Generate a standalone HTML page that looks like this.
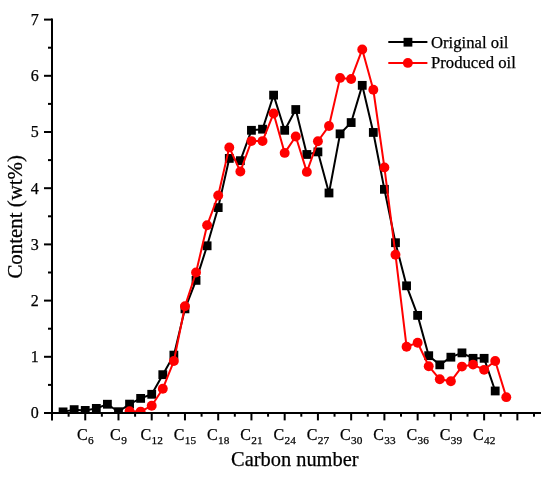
<!DOCTYPE html>
<html><head><meta charset="utf-8"><title>Carbon number distribution</title>
<style>html,body{margin:0;padding:0;background:#fff}svg{display:block}text{font-family:"Liberation Serif","Times New Roman",serif;fill:#000;stroke:#000;stroke-width:0.25}</style></head><body>
<svg width="550" height="477" viewBox="0 0 550 477">
<rect width="550" height="477" fill="#fff"/>
<defs><clipPath id="plot"><rect x="52" y="0" width="489" height="413"/></clipPath></defs>
<g clip-path="url(#plot)">
<polyline points="63.08,411.88 74.16,409.63 85.24,410.41 96.32,408.39 107.40,404.23 118.48,411.71 129.56,404.12 140.64,398.39 151.72,394.29 162.80,374.67 173.88,355.11 184.96,308.86 196.04,280.37 207.12,245.80 218.20,207.59 229.28,158.41 240.36,160.66 251.44,130.31 262.52,129.19 273.60,95.13 284.68,130.31 295.76,109.52 306.84,154.48 317.92,151.89 329.00,192.98 340.08,133.85 351.16,122.56 362.24,85.35 373.32,132.45 384.40,189.32 395.48,242.71 406.56,285.82 417.64,315.38 428.72,355.68 439.80,364.84 450.88,357.19 461.96,352.87 473.04,358.32 484.12,358.32 495.20,390.97" fill="none" stroke="#000" stroke-width="2.0" stroke-linejoin="round"/>
<g fill="#000">
<rect x="58.68" y="407.48" width="8.8" height="8.8"/>
<rect x="69.76" y="405.23" width="8.8" height="8.8"/>
<rect x="80.84" y="406.01" width="8.8" height="8.8"/>
<rect x="91.92" y="403.99" width="8.8" height="8.8"/>
<rect x="103.00" y="399.83" width="8.8" height="8.8"/>
<rect x="114.08" y="407.31" width="8.8" height="8.8"/>
<rect x="125.16" y="399.72" width="8.8" height="8.8"/>
<rect x="136.24" y="393.99" width="8.8" height="8.8"/>
<rect x="147.32" y="389.89" width="8.8" height="8.8"/>
<rect x="158.40" y="370.27" width="8.8" height="8.8"/>
<rect x="169.48" y="350.71" width="8.8" height="8.8"/>
<rect x="180.56" y="304.46" width="8.8" height="8.8"/>
<rect x="191.64" y="275.97" width="8.8" height="8.8"/>
<rect x="202.72" y="241.40" width="8.8" height="8.8"/>
<rect x="213.80" y="203.19" width="8.8" height="8.8"/>
<rect x="224.88" y="154.01" width="8.8" height="8.8"/>
<rect x="235.96" y="156.26" width="8.8" height="8.8"/>
<rect x="247.04" y="125.91" width="8.8" height="8.8"/>
<rect x="258.12" y="124.79" width="8.8" height="8.8"/>
<rect x="269.20" y="90.73" width="8.8" height="8.8"/>
<rect x="280.28" y="125.91" width="8.8" height="8.8"/>
<rect x="291.36" y="105.12" width="8.8" height="8.8"/>
<rect x="302.44" y="150.08" width="8.8" height="8.8"/>
<rect x="313.52" y="147.49" width="8.8" height="8.8"/>
<rect x="324.60" y="188.58" width="8.8" height="8.8"/>
<rect x="335.68" y="129.45" width="8.8" height="8.8"/>
<rect x="346.76" y="118.16" width="8.8" height="8.8"/>
<rect x="357.84" y="80.95" width="8.8" height="8.8"/>
<rect x="368.92" y="128.05" width="8.8" height="8.8"/>
<rect x="380.00" y="184.92" width="8.8" height="8.8"/>
<rect x="391.08" y="238.31" width="8.8" height="8.8"/>
<rect x="402.16" y="281.42" width="8.8" height="8.8"/>
<rect x="413.24" y="310.98" width="8.8" height="8.8"/>
<rect x="424.32" y="351.28" width="8.8" height="8.8"/>
<rect x="435.40" y="360.44" width="8.8" height="8.8"/>
<rect x="446.48" y="352.79" width="8.8" height="8.8"/>
<rect x="457.56" y="348.47" width="8.8" height="8.8"/>
<rect x="468.64" y="353.92" width="8.8" height="8.8"/>
<rect x="479.72" y="353.92" width="8.8" height="8.8"/>
<rect x="490.80" y="386.57" width="8.8" height="8.8"/>
</g>
<polyline points="129.56,411.31 140.64,411.60 151.72,405.69 162.80,388.72 173.88,361.01 184.96,306.22 196.04,272.50 207.12,225.29 218.20,195.51 229.28,147.40 240.36,171.51 251.44,141.10 262.52,141.10 273.60,113.45 284.68,152.91 295.76,136.50 306.84,171.90 317.92,141.27 329.00,125.93 340.08,77.88 351.16,78.95 362.24,49.39 373.32,89.74 384.40,167.41 395.48,254.68 406.56,346.68 417.64,342.75 428.72,366.19 439.80,379.28 450.88,381.30 461.96,366.58 473.04,364.61 484.12,369.84 495.20,361.01 506.28,397.15" fill="none" stroke="#ff0000" stroke-width="2.0" stroke-linejoin="round"/>
<g fill="#ff0000">
<circle cx="129.56" cy="411.31" r="4.95"/>
<circle cx="140.64" cy="411.60" r="4.95"/>
<circle cx="151.72" cy="405.69" r="4.95"/>
<circle cx="162.80" cy="388.72" r="4.95"/>
<circle cx="173.88" cy="361.01" r="4.95"/>
<circle cx="184.96" cy="306.22" r="4.95"/>
<circle cx="196.04" cy="272.50" r="4.95"/>
<circle cx="207.12" cy="225.29" r="4.95"/>
<circle cx="218.20" cy="195.51" r="4.95"/>
<circle cx="229.28" cy="147.40" r="4.95"/>
<circle cx="240.36" cy="171.51" r="4.95"/>
<circle cx="251.44" cy="141.10" r="4.95"/>
<circle cx="262.52" cy="141.10" r="4.95"/>
<circle cx="273.60" cy="113.45" r="4.95"/>
<circle cx="284.68" cy="152.91" r="4.95"/>
<circle cx="295.76" cy="136.50" r="4.95"/>
<circle cx="306.84" cy="171.90" r="4.95"/>
<circle cx="317.92" cy="141.27" r="4.95"/>
<circle cx="329.00" cy="125.93" r="4.95"/>
<circle cx="340.08" cy="77.88" r="4.95"/>
<circle cx="351.16" cy="78.95" r="4.95"/>
<circle cx="362.24" cy="49.39" r="4.95"/>
<circle cx="373.32" cy="89.74" r="4.95"/>
<circle cx="384.40" cy="167.41" r="4.95"/>
<circle cx="395.48" cy="254.68" r="4.95"/>
<circle cx="406.56" cy="346.68" r="4.95"/>
<circle cx="417.64" cy="342.75" r="4.95"/>
<circle cx="428.72" cy="366.19" r="4.95"/>
<circle cx="439.80" cy="379.28" r="4.95"/>
<circle cx="450.88" cy="381.30" r="4.95"/>
<circle cx="461.96" cy="366.58" r="4.95"/>
<circle cx="473.04" cy="364.61" r="4.95"/>
<circle cx="484.12" cy="369.84" r="4.95"/>
<circle cx="495.20" cy="361.01" r="4.95"/>
<circle cx="506.28" cy="397.15" r="4.95"/>
</g>
</g>
<g stroke="#000" stroke-width="2" fill="none" stroke-linecap="butt">
<path d="M52 18.60V414"/>
<path d="M44 413H541"/>
<path d="M48 384.90H52"/>
<path d="M44 356.80H52"/>
<path d="M48 328.70H52"/>
<path d="M44 300.60H52"/>
<path d="M48 272.50H52"/>
<path d="M44 244.40H52"/>
<path d="M48 216.30H52"/>
<path d="M44 188.20H52"/>
<path d="M48 160.10H52"/>
<path d="M44 132.00H52"/>
<path d="M48 103.90H52"/>
<path d="M44 75.80H52"/>
<path d="M48 47.70H52"/>
<path d="M44 19.60H52"/>
<path d="M52.00 413V420.4"/>
<path d="M68.62 413V416.7"/>
<path d="M85.24 413V420.4"/>
<path d="M101.86 413V416.7"/>
<path d="M118.48 413V420.4"/>
<path d="M135.10 413V416.7"/>
<path d="M151.72 413V420.4"/>
<path d="M168.34 413V416.7"/>
<path d="M184.96 413V420.4"/>
<path d="M201.58 413V416.7"/>
<path d="M218.20 413V420.4"/>
<path d="M234.82 413V416.7"/>
<path d="M251.44 413V420.4"/>
<path d="M268.06 413V416.7"/>
<path d="M284.68 413V420.4"/>
<path d="M301.30 413V416.7"/>
<path d="M317.92 413V420.4"/>
<path d="M334.54 413V416.7"/>
<path d="M351.16 413V420.4"/>
<path d="M367.78 413V416.7"/>
<path d="M384.40 413V420.4"/>
<path d="M401.02 413V416.7"/>
<path d="M417.64 413V420.4"/>
<path d="M434.26 413V416.7"/>
<path d="M450.88 413V420.4"/>
<path d="M467.50 413V416.7"/>
<path d="M484.12 413V420.4"/>
<path d="M500.74 413V416.7"/>
<path d="M517.36 413V420.4"/>
<path d="M533.98 413V416.7"/>
</g>
<g font-size="16" text-anchor="end">
<text x="38.8" y="418.30">0</text>
<text x="38.8" y="362.10">1</text>
<text x="38.8" y="305.90">2</text>
<text x="38.8" y="249.70">3</text>
<text x="38.8" y="193.50">4</text>
<text x="38.8" y="137.30">5</text>
<text x="38.8" y="81.10">6</text>
<text x="38.8" y="24.90">7</text>
</g>
<g font-size="16">
<text x="76.88" y="439.9">C<tspan font-size="11.3" dy="4.4" dx="0.4">6</tspan></text>
<text x="110.12" y="439.9">C<tspan font-size="11.3" dy="4.4" dx="0.4">9</tspan></text>
<text x="140.53" y="439.9">C<tspan font-size="11.3" dy="4.4" dx="0.4">12</tspan></text>
<text x="173.77" y="439.9">C<tspan font-size="11.3" dy="4.4" dx="0.4">15</tspan></text>
<text x="207.01" y="439.9">C<tspan font-size="11.3" dy="4.4" dx="0.4">18</tspan></text>
<text x="240.25" y="439.9">C<tspan font-size="11.3" dy="4.4" dx="0.4">21</tspan></text>
<text x="273.49" y="439.9">C<tspan font-size="11.3" dy="4.4" dx="0.4">24</tspan></text>
<text x="306.73" y="439.9">C<tspan font-size="11.3" dy="4.4" dx="0.4">27</tspan></text>
<text x="339.97" y="439.9">C<tspan font-size="11.3" dy="4.4" dx="0.4">30</tspan></text>
<text x="373.21" y="439.9">C<tspan font-size="11.3" dy="4.4" dx="0.4">33</tspan></text>
<text x="406.45" y="439.9">C<tspan font-size="11.3" dy="4.4" dx="0.4">36</tspan></text>
<text x="439.69" y="439.9">C<tspan font-size="11.3" dy="4.4" dx="0.4">39</tspan></text>
<text x="472.93" y="439.9">C<tspan font-size="11.3" dy="4.4" dx="0.4">42</tspan></text>
</g>
<text x="294.8" y="466" font-size="20.4" text-anchor="middle">Carbon number</text>
<text transform="translate(21.5 216.8) rotate(-90)" font-size="20.9" text-anchor="middle">Content (wt%)</text>
<path d="M388.3 42.1H427.4" stroke="#000" stroke-width="2.0"/>
<rect x="403.55" y="37.800000000000004" width="8.8" height="8.8" fill="#000"/>
<path d="M388.3 63.0H427.4" stroke="#ff0000" stroke-width="2.0"/>
<circle cx="407.85" cy="62.9" r="4.95" fill="#ff0000"/>
<text x="431.0" y="47.7" font-size="16.7">Original oil</text>
<text x="431.0" y="68.4" font-size="16.7">Produced oil</text>
</svg></body></html>
